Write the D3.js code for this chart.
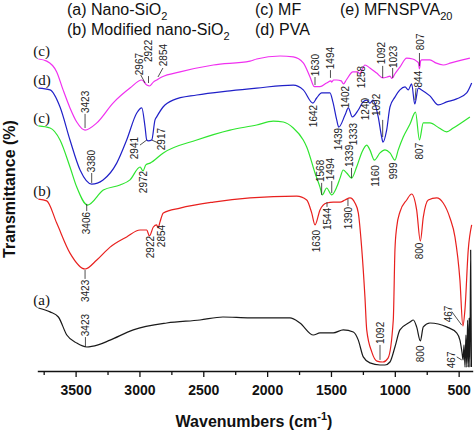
<!DOCTYPE html>
<html><head><meta charset="utf-8">
<script src="https://cdn.jsdelivr.net/npm/d3@7"></script>
<style>
html,body{margin:0;padding:0;background:#fff;}
svg{display:block;font-family:"Liberation Sans",Arial,sans-serif;}
</style></head>
<body><svg id="c" width="474" height="431"></svg>
<script>
// ---------- data ----------
const wnE = [3792,3726,3648,3598,3544,3491,3426,3334,3207,3074,2982,2943,2922,2891,2865,2825,2682,2421,2134,2082,1899,1795,1717,1664,1630,1586,1534,1500,1494,1480,1455,1420,1402,1380,1328,1290,1273,1258,1234,1195,1142,1093,1060,1038,1023,1000,960,907,860,830,815,807,798,790,725,680,621,560,516,470,412];
const tE  = [104.0,103.3,99.7,93.7,87.7,83.0,80.3,82.7,89.3,94.3,97.0,95.3,95.0,96.3,97.0,98.0,99.7,102.0,103.3,104.0,105.0,104.7,102.7,98.0,94.8,94.8,96.0,96.7,96.3,97.0,97.0,96.7,95.7,97.0,99.7,99.7,99.0,100.3,102.0,101.0,99.3,97.7,98.0,98.3,97.5,99.0,101.3,104.3,104.0,103.3,102.7,100.7,103.3,103.7,103.7,102.7,102.0,102.7,103.2,103.7,104.3];

const wnD = [3792,3700,3622,3544,3465,3374,3285,3178,3100,3021,2982,2956,2943,2930,2904,2878,2865,2815,2737,2551,2291,2082,1795,1717,1642,1612,1573,1508,1485,1455,1439,1390,1364,1333,1286,1249,1220,1195,1171,1130,1103,1093,1064,1038,999,960,920,895,868,844,816,790,725,660,594,516,437,398];
const tD  = [94.3,93.7,88.0,77.0,67.0,62.3,63.7,69.3,77.0,86.0,87.7,81.3,77.0,76.7,77.0,83.7,84.7,88.0,90.3,92.0,93.4,94.3,95.3,93.7,89.3,91.0,92.7,92.7,89.7,83.7,81.3,85.3,87.7,84.7,87.0,89.7,90.3,89.3,90.3,84.7,78.0,76.3,80.3,88.0,91.3,93.7,94.7,93.7,95.7,89.0,94.3,93.7,91.7,88.7,89.7,90.7,92.7,96.0];

const wnC = [3792,3700,3622,3544,3491,3406,3283,3152,3074,2995,2972,2950,2917,2813,2551,2291,2082,1952,1873,1795,1717,1690,1625,1586,1568,1534,1494,1455,1429,1404,1377,1339,1299,1260,1220,1195,1160,1116,1077,1038,999,973,934,881,838,807,777,725,653,594,542,412];
const tC  = [81.7,81.0,77.0,68.0,61.3,55.3,60.3,62.0,63.7,68.0,66.7,68.7,69.3,72.7,77.0,80.3,82.0,83.3,83.0,81.0,77.0,74.7,66.0,61.3,58.7,61.0,58.7,61.3,64.3,67.0,66.0,64.3,68.0,72.7,75.3,73.7,70.3,72.7,73.7,72.7,70.3,73.7,78.0,82.3,86.3,77.0,82.7,82.7,81.0,79.7,81.0,84.7];

const wnB = [3792,3726,3648,3544,3426,3334,3230,3100,2995,2943,2922,2891,2865,2854,2839,2813,2682,2421,2134,1768,1690,1651,1625,1586,1534,1482,1429,1390,1351,1312,1286,1260,1234,1220,1180,1140,1093,1053,1012,999,986,960,907,868,829,800,777,738,672,621,568,529,490,467,451,425,398];
const tB  = [57.3,56.7,49.3,39.3,34.0,37.0,41.3,44.7,47.0,47.0,45.0,48.0,48.7,47.7,49.7,52.7,54.3,56.3,57.7,58.3,57.0,52.7,48.7,53.7,56.0,56.3,56.3,57.0,57.7,56.0,52.7,41.3,24.7,13.7,6.3,3.3,3.0,4.3,17.0,40.3,47.7,53.0,57.0,59.0,53.7,43.3,51.3,57.0,57.7,56.0,51.0,44.7,30.3,15.0,20.3,40.3,48.7];

const wnA = [3792,3700,3635,3569,3491,3413,3324,3230,3048,2786,2526,2346,2134,1821,1743,1638,1586,1482,1404,1325,1286,1247,1195,1116,1077,1038,999,960,881,855,829,800,777,725,594,516,490,474,465,458,450,443,436,430,424,418,412,406,400];
const tA  = [21.0,19.7,18.0,12.0,9.3,8.0,8.7,10.3,13.7,16.0,17.0,18.0,17.7,17.7,16.0,12.0,12.7,12.7,13.7,13.0,10.3,4.7,2.7,2.0,2.0,3.0,8.0,13.7,16.3,17.0,14.7,10.0,14.7,16.0,14.7,12.7,10.3,6.3,3.7,8.7,1.3,12.0,1.3,17.0,1.3,17.7,1.3,40.3,1.3];

const seriesNames = ["(a)","(b)","(c)","(d)","(c)"];
const seriesColors = ["#1a1a1a","#e8201e","#2fe52f","#2020c8","#f030f0"];
const seriesWn = [wnA, wnB, wnC, wnD, wnE];
const seriesT  = [tA, tB, tC, tD, tE];

const majorTicks = [3500,3000,2500,2000,1500,1000,500];
const minorTicks = [3750,3250,2750,2250,1750,1250,750];

const legendItems = [
  ["(a) Nano-SiO","2"], ["(b) Modified nano-SiO","2"],
  ["(c) MF",""], ["(d) PVA",""], ["(e) MFNSPVA","20"]
];

// peak labels: text, x wavenumber, text-centre level, leader line
const peakLabels = [
 ["3423",3426,89.7,[[3426,85.7],[3426,81.0]]],
 ["2967",3003,102.3,[[2990,98.7],[2956,96.0]]],
 ["2922",2929,106.7,[[2929,98.3],[2929,96.0]]],
 ["2854",2808,105.3,[[2816,101.0],[2855,98.0]]],
 ["1630",1625,102.0,[[1625,98.0],[1625,95.3]]],
 ["1494",1504,104.3,[[1504,100.3],[1504,97.7]]],
 ["1402",1390,91.3,null],
 ["1258",1259,98.0,null],
 ["1092",1103,106.0,[[1095,101.7],[1095,97.7]]],
 ["1023",1012,104.7,[[1017,101.0],[1017,97.7]]],
 ["807",795,109.7,[[807,106.0],[807,101.7]]],
 ["3380",3374,70.0,[[3374,66.0],[3374,62.7]]],
 ["2941",3035,74.3,[[2996,75.3],[2943,77.0]]],
 ["2917",2826,77.3,[[2852,76.0],[2904,77.0]]],
 ["1642",1638,85.0,null],
 ["1439",1443,77.3,null],
 ["1333",1325,79.0,null],
 ["1240",1233,87.3,null],
 ["1092",1142,88.7,[[1095,83.7],[1095,78.0]]],
 ["844",818,97.3,[[834,94.3],[842,90.3]]],
 ["3406",3413,49.3,[[3413,55.7],[3413,53.3]]],
 ["2972",2970,63.0,null],
 ["1568",1582,66.7,[[1573,62.7],[1573,58.7]]],
 ["1494",1504,67.3,[[1494,63.3],[1494,59.3]]],
 ["1339",1351,71.7,[[1339,67.7],[1339,64.3]]],
 ["1160",1155,65.0,null],
 ["999",1012,66.7,null],
 ["807",803,73.3,null],
 ["3423",3426,26.7,[[3426,33.7],[3426,30.7]]],
 ["2922",2917,41.3,null],
 ["2854",2826,45.0,null],
 ["1630",1617,43.3,null],
 ["1544",1526,50.7,[[1531,56.3],[1531,54.7]]],
 ["1390",1364,51.0,[[1367,57.3],[1367,55.0]]],
 ["800",803,40.0,null],
 ["467",581,19.0,[[554,19.8],[476,15.3]]],
 ["3423",3423,15.3,[[3423,11.3],[3423,8.0]]],
 ["1092",1116,12.7,[[1116,8.7],[1116,3.7]]],
 ["800",797,5.7,null],
 ["467",554,3.7,[[515,4.7],[476,3.7]]]
];

// ---------- drawing ----------
const svg = d3.select("#c");
const x = d3.scaleLinear().domain([3800, 390]).range([37.3, 472.7]);
const y = d3.scaleLinear().domain([0, 120]).range([371, 11]);

const line = d3.line().x(d => x(d[0])).y(d => y(d[1])).curve(d3.curveMonotoneX);

seriesWn.forEach((wn, i) => {
  const pts = wn.map((w, j) => [w, seriesT[i][j]]);
  svg.append("path").datum(pts).attr("d", line)
    .attr("fill", "none").attr("stroke", seriesColors[i]).attr("stroke-width", 1.2)
    .attr("stroke-linejoin", "round");
  svg.append("text").attr("x", x(wn[0]) - 5).attr("y", y(seriesT[i][0]) - 3)
    .attr("font-family", "'Liberation Serif','Times New Roman',serif")
    .attr("font-size", 15).attr("fill", "#111").text(seriesNames[i]);
});

// peak labels
const pl = svg.append("g").attr("font-size", 10).attr("fill", "#222");
peakLabels.forEach(p => {
  pl.append("text").attr("transform", `translate(${x(p[1])},${y(p[2])}) rotate(-90)`)
    .attr("text-anchor", "middle").attr("dy", "0.35em").text(p[0]);
  if (p[3]) {
    pl.append("line").attr("x1", x(p[3][0][0])).attr("y1", y(p[3][0][1]))
      .attr("x2", x(p[3][1][0])).attr("y2", y(p[3][1][1]))
      .attr("stroke", "#222").attr("stroke-width", 0.8);
  }
});

// axes
const ax = svg.append("g").attr("transform", `translate(0,${y(0)})`)
  .call(d3.axisBottom(x).tickValues(majorTicks).tickSize(6).tickSizeOuter(0).tickPadding(8).tickFormat(d3.format("d")));
ax.selectAll("text").attr("font-size", 14).attr("font-weight", "bold").attr("fill", "#111")
  .attr("font-family", "'Liberation Sans',Arial,sans-serif");
ax.selectAll("line,path").attr("stroke", "#111").attr("stroke-width", 1.3);
const axm = svg.append("g").attr("transform", `translate(0,${y(0)})`)
  .call(d3.axisBottom(x).tickValues(minorTicks).tickSize(4).tickFormat(""));
axm.select(".domain").remove();
axm.selectAll("line").attr("stroke", "#111").attr("stroke-width", 1.3);

// titles
const xt = svg.append("text").attr("x", 254).attr("y", 427).attr("text-anchor", "middle")
  .attr("font-size", 16).attr("font-weight", "bold").attr("fill", "#111");
xt.append("tspan").text("Wavenumbers (cm");
xt.append("tspan").attr("font-size", 11).attr("dy", -7).text("-1");
xt.append("tspan").attr("dy", 7).text(")");

svg.append("text").attr("transform", "translate(15,189) rotate(-90)").attr("text-anchor", "middle")
  .attr("font-size", 16).attr("font-weight", "bold").attr("fill", "#111").text("Transmittance (%)");

// legend text
const legPos = [[67,15],[67,35],[255,15],[255,35],[340,15]];
legendItems.forEach((it, i) => {
  const t = svg.append("text").attr("x", legPos[i][0]).attr("y", legPos[i][1])
    .attr("font-size", 16).attr("fill", "#111");
  t.append("tspan").text(it[0]);
  if (it[1]) t.append("tspan").attr("font-size", 11).attr("dy", 5).text(it[1]);
});
</script></body></html>
